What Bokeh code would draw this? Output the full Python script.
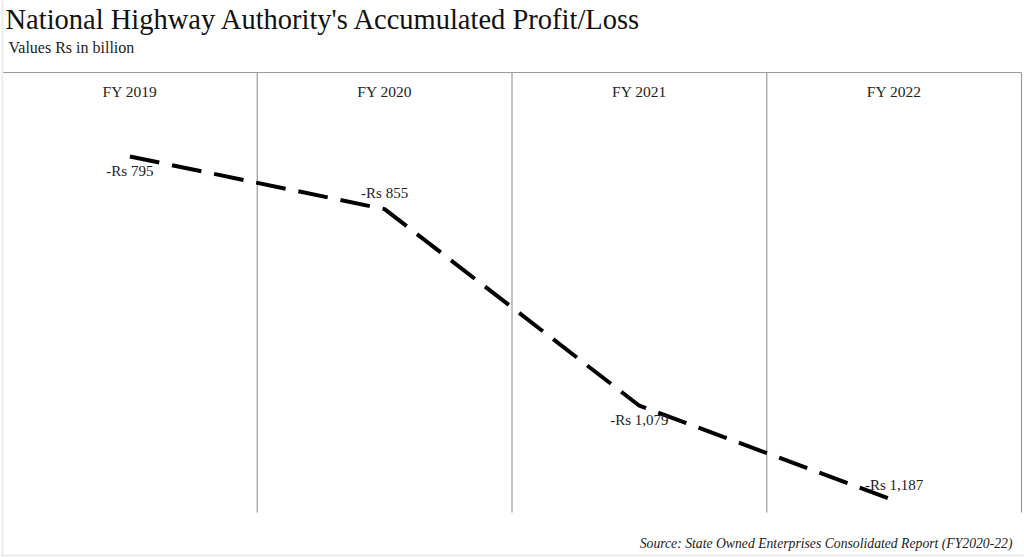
import numpy as np
from bokeh.plotting import figure
from bokeh.models import Range1d, Label, ColumnDataSource
from bokeh.core.properties import value
from bokeh.embed import file_html
from bokeh.resources import INLINE

# ---------------- data ----------------
years = ["FY 2019", "FY 2020", "FY 2021", "FY 2022"]
values = [-795, -855, -1079, -1187]
value_labels = ["-Rs 795", "-Rs 855", "-Rs 1,079", "-Rs 1,187"]
title_text = "National Highway Authority's Accumulated Profit/Loss"
subtitle_text = "Values Rs in billion"
source_text = "Source: State Owned Enterprises Consolidated Report (FY2020-22)"

# ---------------- layout ----------------
W, H = 1024, 557
SERIF = "Liberation Serif"
BOX_L, BOX_R, BOX_T, BOX_B = 2, 1021, 72, 512

n = len(years)
xs = np.arange(n, dtype=float)
ppu_x = (BOX_R - BOX_L) / n
x_start = -0.5 - BOX_L / ppu_x
x_end = x_start + W / ppu_x

# vertical scale: chosen so the series fills the plot box like the reference
Y_TOP_PX, Y_BOT_PX = 156, 500
vmax, vmin = max(values), min(values)
ppu_y = (Y_BOT_PX - Y_TOP_PX) / (vmax - vmin)
y_end = vmax + Y_TOP_PX / ppu_y
y_start = y_end - H / ppu_y


def py(pix):
    """screen pixel row (from top) -> data y"""
    return y_end - pix / ppu_y


p = figure(width=W, height=H, x_range=Range1d(x_start, x_end), y_range=Range1d(y_start, y_end),
           output_backend="svg", toolbar_location=None,
           x_axis_location=None, y_axis_location=None, min_border=0,
           background_fill_color="white", border_fill_color="white")
p.outline_line_color = None
p.grid.visible = False

# frame lines of the table
bounds = np.arange(n + 1) - 0.5
inner = bounds[1:]
p.segment(x0=inner, y0=[py(BOX_T)] * len(inner), x1=inner, y1=[py(BOX_B)] * len(inner),
          line_color="#9a9a9a", line_width=1.2)
p.segment(x0=[bounds[0]], y0=[py(BOX_T)], x1=[bounds[-1]], y1=[py(BOX_T)],
          line_color="#9a9a9a", line_width=1.2)
# faint outer frame
p.segment(x0=[bounds[0]], y0=[py(0)], x1=[bounds[0]], y1=[py(H - 1)], line_color="#e6e6e6", line_width=1.5)
p.segment(x0=[bounds[0]], y0=[py(H - 2)], x1=[x_end], y1=[py(H - 2)], line_color="#e6e6e6", line_width=1.5)

# column headers
p.text(x=xs, y=[py(91)] * n, text=years, text_align="center", text_baseline="alphabetic",
       text_font=value(SERIF), text_font_size="15.5px", text_color="#222222")

# series line
p.line(x=xs, y=values, line_color="black", line_width=4, line_dash="30 13",
       line_cap="butt", line_join="round")

# value labels, alternating below / above
offs = [14 if i % 2 == 0 else -16 for i in range(n)]
lab = ColumnDataSource(dict(x=xs, y=values, text=value_labels, off=offs))
p.text(x="x", y="y", text="text", y_offset="off", source=lab, text_align="center",
       text_baseline="alphabetic", text_font=value(SERIF), text_font_size="15px", text_color="#222222")

# titles
p.add_layout(Label(x=5, y=H - 19, x_units="screen", y_units="screen", text=title_text,
                   text_font=SERIF, text_font_size="28.5px", text_color="#111111",
                   text_baseline="alphabetic"))
p.add_layout(Label(x=8, y=H - 47, x_units="screen", y_units="screen", text=subtitle_text,
                   text_font=SERIF, text_font_size="16px", text_color="#222222",
                   text_baseline="alphabetic"))
p.add_layout(Label(x=1012, y=H - 543, x_units="screen", y_units="screen", text=source_text,
                   text_font=SERIF, text_font_size="13.7px", text_font_style="italic",
                   text_color="#222222", text_align="right", text_baseline="alphabetic"))

open("out.html", "w").write(file_html(p, INLINE))
